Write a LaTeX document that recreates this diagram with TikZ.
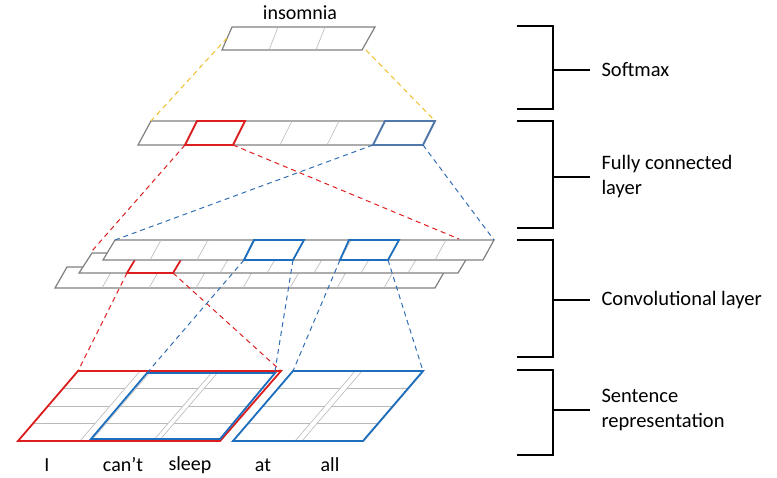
\documentclass[tikz,border=0pt]{standalone}
\usepackage{fontspec}
\setmainfont{Carlito}
\begin{document}
\begin{tikzpicture}[x=1pt,y=-1pt,
  cell/.style={draw=gray!55,line width=0.6pt},
  strip/.style={draw=gray,line width=1.2pt,fill=white},
  redc/.style={draw={rgb,255:red,220;green,30;blue,30},line width=1.8pt},
  bluec/.style={draw={rgb,255:red,30;green,110;blue,190},line width=1.8pt},
  bluefc/.style={draw={rgb,255:red,80;green,120;blue,170},line width=1.8pt},
  rdash/.style={draw={rgb,255:red,220;green,30;blue,30},dash pattern=on 5pt off 4pt,line width=1pt},
  bdash/.style={draw={rgb,255:red,50;green,110;blue,180},dash pattern=on 5pt off 4pt,line width=1pt},
  ydash/.style={draw={rgb,255:red,240;green,190;blue,40},dash pattern=on 5pt off 4pt,line width=1pt},
  brk/.style={draw=black,line width=1.4pt},
  lbl/.style={anchor=west,align=left,font=\fontsize{20.5}{25}\selectfont},
  word/.style={font=\fontsize{20}{24}\selectfont}]
\useasboundingbox (0,0) rectangle (777,478);
% softmax
\draw[strip] (222,50) -- (362,50) -- (375,27) -- (232,27) -- cycle;
\foreach \a/\b in {269/278,316/325} \draw[cell] (\a,50) -- (\b,27);
\node[word] (ins) at (300,13) {insomnia};
% FC
\draw[strip] (138,145) -- (423,145) -- (435,121) -- (151,121) -- cycle;
\foreach \a in {233,280,327,373} \draw[cell] (\a,145) -- (\a+12,121);
\draw[redc] (185,145) -- (233,145) -- (245,121) -- (197,121) -- cycle;
\draw[bluefc] (373,145) -- (423,145) -- (435,121) -- (385,121) -- cycle;
\coordinate (fcRL) at (185,145); \coordinate (fcRR) at (233,145);
\coordinate (fcBL) at (373,145); \coordinate (fcBR) at (423,145);
\coordinate (fcTL) at (151,121); \coordinate (fcTR) at (435,121);
\coordinate (smL) at (227,38); \coordinate (smR) at (366,50);
\draw[ydash] (smL) -- (fcTL); \draw[ydash] (smR) -- (fcTR);
% conv strips
\draw[strip] (55,288) -- (435,288) -- (447,267) -- (67,267) -- cycle;
\foreach \a in {102,149,196,243,290,337,384} \draw[cell] (\a,288) -- (\a+12,267);
\draw[strip] (79,273) -- (458,273) -- (470,253) -- (92,253) -- cycle;
\foreach \a in {127,173,220,267,314,361,408} \draw[cell] (\a,273) -- (\a+12,253);
\draw[redc] (127,273) -- (173,273) -- (185,253) -- (139,253) -- cycle;
\draw[strip] (103,260) -- (483,260) -- (494,240) -- (115,240) -- cycle;
\foreach \a in {150,197,244,293,340,388,435} \draw[cell] (\a,260) -- (\a+11,240);
\draw[bluec] (244,260) -- (293,260) -- (304,240) -- (254,240) -- cycle;
\draw[bluec] (340,260) -- (388,260) -- (399,240) -- (349,240) -- cycle;
\coordinate (cvRL) at (127,273); \coordinate (cvRR) at (173,273);
\coordinate (cvB1L) at (244,260); \coordinate (cvB1R) at (293,260);
\coordinate (cvB2L) at (340,260); \coordinate (cvB2R) at (388,260);
\coordinate (cvML) at (92,251); \coordinate (cvMR) at (459,239);
\coordinate (cvTL) at (115,240); \coordinate (cvTR) at (494,240);
\draw[rdash] (fcRL) -- (cvML); \draw[rdash] (fcRR) -- (cvMR);
\draw[bdash] (fcBL) -- (cvTL); \draw[bdash] (fcBR) -- (cvTR);
% sentence grid
\foreach \s in {18,91,159,233,302} {
  \draw[cell] (\s,441) -- (\s+60,371);
  \draw[cell] (\s+62,441) -- (\s+122,371);
  \foreach \k in {1,2,3} \draw[cell] (\s+60-\k*15,371+\k*17.5) -- (\s+122-\k*15,371+\k*17.5);
}
\draw[redc] (18,441) -- (220,441) -- (281,371) -- (78,371) -- cycle;
\draw[bluec] (91,439) -- (220,439) -- (275,373) -- (147,373) -- cycle;
\draw[bluec] (233,441) -- (363,441) -- (423,371) -- (293,371) -- cycle;
\coordinate (snRL) at (78,371); \coordinate (snRR) at (281,371);
\coordinate (snB1L) at (147,373); \coordinate (snB1R) at (275,371);
\coordinate (snB2L) at (293,371); \coordinate (snB2R) at (423,371);
\draw[rdash] (cvRL) -- (snRL); \draw[rdash] (cvRR) -- (snRR);
\draw[bdash] (cvB1L) -- (snB1L); \draw[bdash] (cvB1R) -- (snB1R);
\draw[bdash] (cvB2L) -- (snB2L); \draw[bdash] (cvB2R) -- (snB2R);
\node[word] (w1) at (47,465) {I};
\node[word] (w2) at (123,465) {can’t};
\node[word] (w3) at (190,465) {sleep};
\node[word] (w4) at (263,465) {at};
\node[word] (w5) at (330,465) {all};
% brackets
\foreach \t/\b/\m/\n/\txt in {26/109/70/l1/Softmax,121/228/177/l2/{Fully connected\\layer},240/357/300/l3/Convolutional layer,370/455/410/l4/{Sentence\\representation}} {
  \draw[brk] (517,\t) -- (553,\t) -- (553,\b) -- (517,\b);
  \draw[brk] (553,\m) -- (590,\m);
  \node[lbl] (\n) at (598,\m) {\txt};
}
\end{tikzpicture}
\end{document}
